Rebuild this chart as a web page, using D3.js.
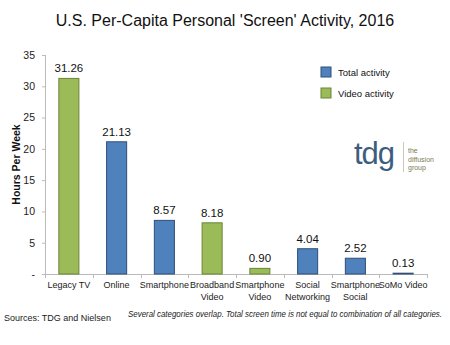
<!DOCTYPE html>
<html>
<head>
<meta charset="utf-8">
<script src="https://cdn.jsdelivr.net/npm/d3@7"></script>
<style>
    body { margin: 0; background: #fff; }
    text { font-family: Arial, "Liberation Sans", sans-serif; }
</style>
</head>
<body>
<svg id="chart" width="450" height="345"></svg>
<script>
var categories = ["Legacy TV", "Online", "Smartphone", "Broadband Video", "Smartphone Video", "Social Networking", "Smartphone Social", "SoMo Video"];
var categoryLines = [["Legacy TV"], ["Online"], ["Smartphone"], ["Broadband", "Video"], ["Smartphone", "Video"], ["Social", "Networking"], ["Smartphone", "Social"], ["SoMo Video"]];
var hours = [31.26, 21.13, 8.57, 8.18, 0.90, 4.04, 2.52, 0.13];
var kinds = ["video", "total", "total", "video", "video", "total", "total", "total"];
var yTicks = [0, 5, 10, 15, 20, 25, 30, 35];

var fills = { total: "#4f81bd", video: "#9bbb59" };
var strokes = { total: "#2f4f78", video: "#6a8536" };

var plotLeft = 45, plotRight = 427, plotTop = 55, plotBottom = 274;
var svg = d3.select("#chart");

var x = d3.scaleBand().domain(categories).range([plotLeft, plotRight]).paddingInner(0.58).paddingOuter(0.29);
var y = d3.scaleLinear().domain([0, 35]).range([plotBottom, plotTop]);

// title
svg.append("text")
    .attr("x", 225).attr("y", 26)
    .attr("text-anchor", "middle")
    .attr("font-size", 16)
    .attr("fill", "#111")
    .text("U.S. Per-Capita Personal 'Screen' Activity, 2016");

// y axis
var yAxis = svg.append("g")
    .attr("transform", "translate(" + plotLeft + ",0)")
    .call(d3.axisLeft(y).tickValues(yTicks).tickSize(3).tickPadding(7)
        .tickFormat(function(d) { return d === 0 ? "-" : d; }));
yAxis.select(".domain").attr("stroke", "#bbb").attr("d", "M0.5," + plotTop + "V" + plotBottom);
yAxis.selectAll(".tick line").attr("stroke", "#bbb");
yAxis.selectAll(".tick text").attr("font-size", 10.5).attr("fill", "#222").attr("font-family", "Arial, 'Liberation Sans', sans-serif");

svg.append("text")
    .attr("transform", "translate(20," + ((plotTop + plotBottom) / 2) + ") rotate(-90)")
    .attr("text-anchor", "middle")
    .attr("font-size", 10.5)
    .attr("font-weight", "bold")
    .attr("fill", "#111")
    .text("Hours Per Week");

// x axis with ticks between categories
var step = x.step();
svg.append("line")
    .attr("x1", plotLeft).attr("x2", plotRight)
    .attr("y1", plotBottom + 0.5).attr("y2", plotBottom + 0.5)
    .attr("stroke", "#bbb");
svg.selectAll(".xtick").data(d3.range(categories.length + 1)).enter().append("line")
    .attr("x1", function(i) { return Math.round(plotLeft + i * step) + 0.5; })
    .attr("x2", function(i) { return Math.round(plotLeft + i * step) + 0.5; })
    .attr("y1", plotBottom).attr("y2", plotBottom + 4)
    .attr("stroke", "#bbb");

// bars
svg.selectAll(".bar").data(categories).enter().append("rect")
    .attr("x", function(d) { return x(d); })
    .attr("width", x.bandwidth())
    .attr("y", function(d, i) { return y(hours[i]); })
    .attr("height", function(d, i) { return plotBottom - y(hours[i]); })
    .attr("fill", function(d, i) { return fills[kinds[i]]; })
    .attr("stroke", function(d, i) { return strokes[kinds[i]]; })
    .attr("stroke-width", 1);

// value labels
svg.selectAll(".val").data(categories).enter().append("text")
    .attr("x", function(d) { return x(d) + x.bandwidth() / 2; })
    .attr("y", function(d, i) { return y(hours[i]) - 6; })
    .attr("text-anchor", "middle")
    .attr("font-size", 11.5)
    .attr("fill", "#111")
    .text(function(d, i) { return hours[i].toFixed(2); });

// category labels
var catText = svg.selectAll(".cat").data(categories).enter().append("text")
    .attr("x", function(d) { return x(d) + x.bandwidth() / 2; })
    .attr("y", plotBottom + 14)
    .attr("text-anchor", "middle")
    .attr("font-size", 9)
    .attr("fill", "#222");
catText.each(function(d, i) {
    var t = d3.select(this);
    categoryLines[i].forEach(function(line, k) {
        t.append("tspan").attr("x", x(d) + x.bandwidth() / 2).attr("dy", k === 0 ? 0 : 12).text(line);
    });
});

// legend
var legend = [["total", "Total activity"], ["video", "Video activity"]];
var lg = svg.selectAll(".legend").data(legend).enter().append("g")
    .attr("transform", function(d, i) { return "translate(321," + (67 + i * 21) + ")"; });
lg.append("rect")
    .attr("width", 10).attr("height", 10)
    .attr("fill", function(d) { return fills[d[0]]; })
    .attr("stroke", function(d) { return strokes[d[0]]; });
lg.append("text")
    .attr("x", 17).attr("y", 9)
    .attr("font-size", 9.5)
    .attr("fill", "#111")
    .text(function(d) { return d[1]; });

// tdg logo
svg.append("text")
    .attr("x", 354).attr("y", 164)
    .attr("font-family", "Lato, 'Open Sans', sans-serif")
    .attr("font-size", 31)
    .attr("letter-spacing", -1)
    .attr("fill", "#3d5d7e")
    .text("tdg");
svg.append("line")
    .attr("x1", 403.5).attr("x2", 403.5)
    .attr("y1", 142).attr("y2", 172)
    .attr("stroke", "#c8c8b8");
svg.selectAll(".logoword").data(["the", "diffusion", "group"]).enter().append("text")
    .attr("x", 408)
    .attr("y", function(d, i) { return 153 + i * 8.5; })
    .attr("font-family", "'DejaVu Serif', 'Liberation Serif', serif")
    .attr("font-size", 7)
    .attr("fill", "#7d7a55")
    .text(function(d) { return d; });

// footer
svg.append("text")
    .attr("x", 4).attr("y", 321)
    .attr("font-size", 9)
    .attr("fill", "#222")
    .text("Sources: TDG and Nielsen");
svg.append("text")
    .attr("x", 128).attr("y", 317)
    .attr("font-size", 9)
    .attr("font-style", "italic")
    .attr("fill", "#222")
    .attr("textLength", 314)
    .attr("lengthAdjust", "spacingAndGlyphs")
    .text("Several categories overlap. Total screen time is not equal to combination of all categories.");
</script>
</body>
</html>
